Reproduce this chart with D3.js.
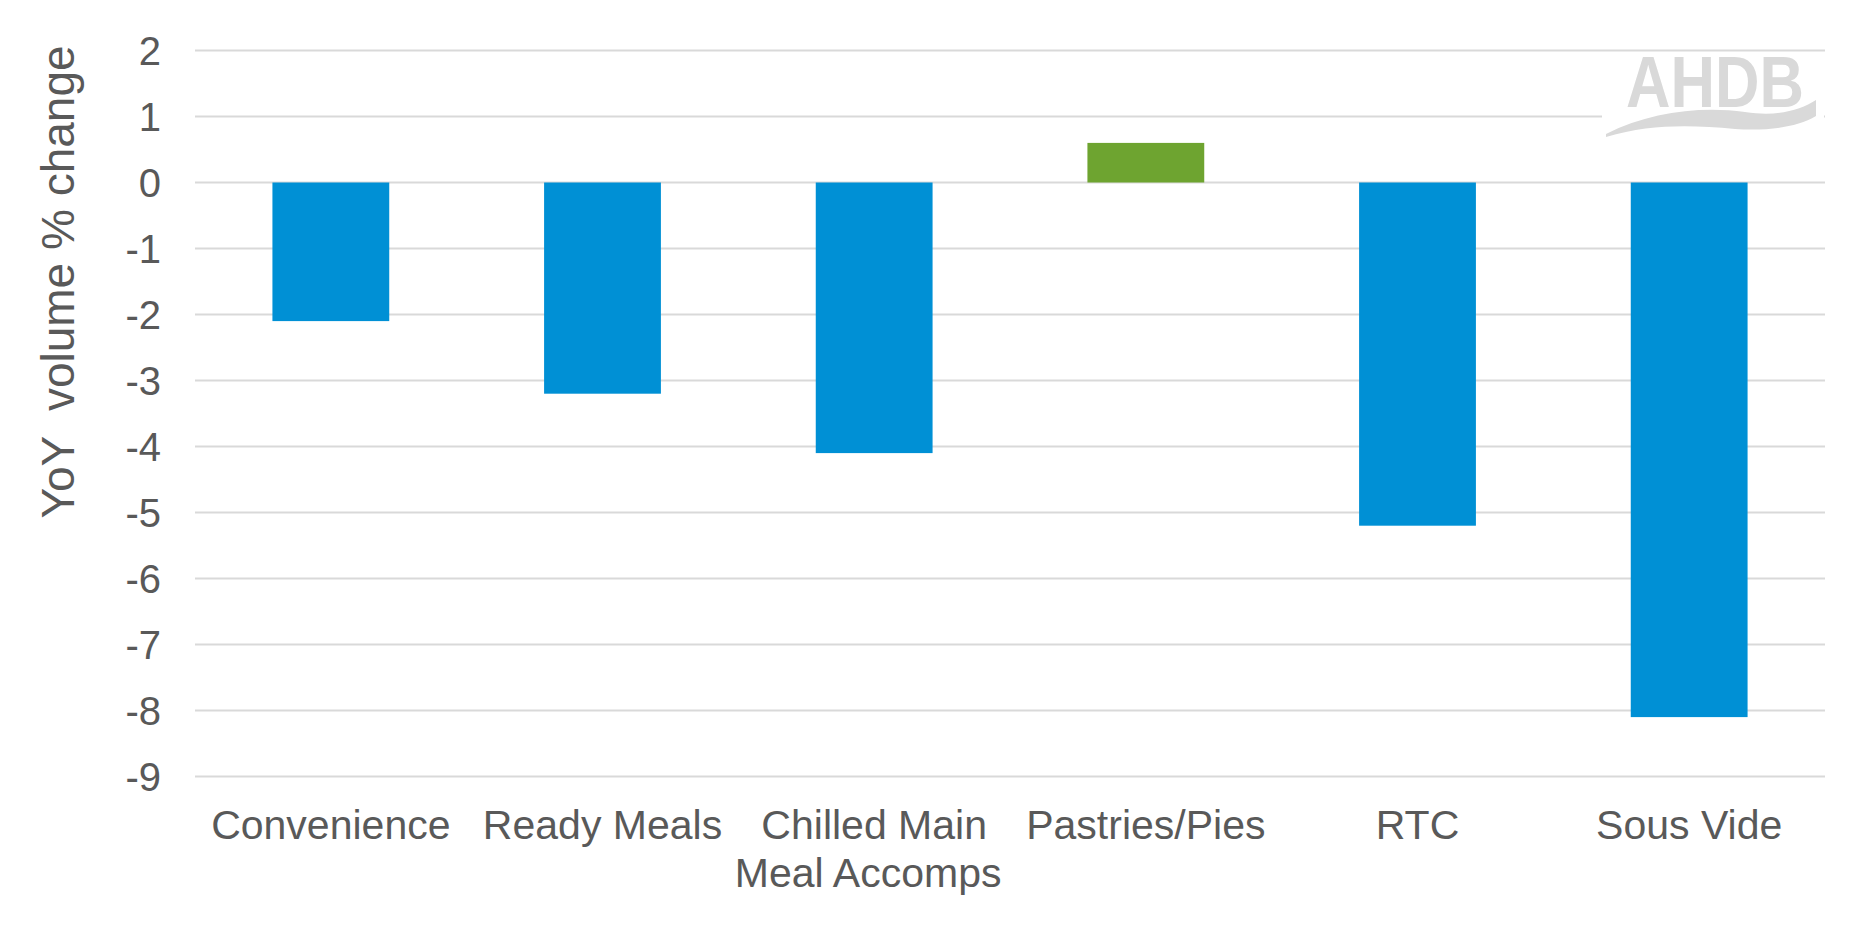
<!DOCTYPE html>
<html>
<head>
<meta charset="utf-8">
<script src="https://cdn.jsdelivr.net/npm/d3@7"></script>
<style>
    body { margin: 0; background: #fff; }
    svg { display: block; font-family: Arial, "Liberation Sans", sans-serif; }
</style>
</head>
<body>
<svg id="chart"></svg>
<script>
var categories = ["Convenience", "Ready Meals", "Chilled Main|Meal Accomps", "Pastries/Pies", "RTC", "Sous Vide"];
var changes = [-2.1, -3.2, -4.1, 0.6, -5.2, -8.1];
var yTicks = [2, 1, 0, -1, -2, -3, -4, -5, -6, -7, -8, -9];
var yTitle = "YoY  volume % change";

var chart = (function() {

    var width = 1875,
        height = 925;

    var left = 195,
        right = 1825,
        top = 50.5,
        bottom = 776.5;

    var textColor = "#595959";

    function BarChart() {
        this.svg = d3.select("#chart")
            .attr("width", width)
            .attr("height", height);
    };

    BarChart.prototype.render = function() {
        var svg = this.svg;

        var x = d3.scaleBand()
            .domain(categories)
            .range([left, right])
            .paddingInner(0.57)
            .paddingOuter(0.285);

        var y = d3.scaleLinear()
            .domain([-9, 2])
            .range([bottom, top]);

        // gridlines
        svg.append("g").selectAll("line")
            .data(yTicks)
            .enter()
            .append("line")
            .attr("x1", left)
            .attr("x2", right)
            .attr("y1", function(d) { return y(d); })
            .attr("y2", function(d) { return y(d); })
            .attr("stroke", "#d9d9d9")
            .attr("stroke-width", 2);

        // tick labels
        svg.append("g").selectAll("text")
            .data(yTicks)
            .enter()
            .append("text")
            .attr("x", 161)
            .attr("y", function(d) { return y(d); })
            .attr("dy", "0.36em")
            .attr("text-anchor", "end")
            .attr("font-size", 40)
            .attr("fill", textColor)
            .text(function(d) { return d; });

        // bars
        svg.append("g").selectAll("rect")
            .data(d3.zip(categories, changes))
            .enter()
            .append("rect")
            .attr("x", function(d) { return x(d[0]); })
            .attr("width", x.bandwidth())
            .attr("y", function(d) { return y(Math.max(0, d[1])); })
            .attr("height", function(d) { return Math.abs(y(d[1]) - y(0)); })
            .attr("fill", function(d) { return d[1] >= 0 ? "#6ea430" : "#0090d5"; });

        // category labels
        var labels = svg.append("g").selectAll("text")
            .data(categories)
            .enter()
            .append("text")
            .attr("text-anchor", "middle")
            .attr("font-size", 41)
            .attr("fill", textColor);

        labels.selectAll("tspan")
            .data(function(d) {
                return d.split("|").map(function(s) { return [d, s]; });
            })
            .enter()
            .append("tspan")
            .attr("x", function(d, i) { return x(d[0]) + x.bandwidth() / 2 - i * 6; })
            .attr("y", function(d, i) { return 839 + i * 48; })
            .text(function(d) { return d[1]; });

        // y title
        svg.append("text")
            .attr("transform", "translate(74,282) rotate(-90)")
            .attr("text-anchor", "middle")
            .attr("font-size", 46)
            .attr("fill", textColor)
            .style("white-space", "pre")
            .text(yTitle);

        // logo
        var logo = svg.append("g");
        logo.append("rect")
            .attr("x", 1602)
            .attr("y", 56)
            .attr("width", 222)
            .attr("height", 86)
            .attr("fill", "#fff");
        logo.append("text")
            .attr("x", 1626)
            .attr("y", 107)
            .attr("font-size", 72)
            .attr("font-weight", "bold")
            .attr("textLength", 178)
            .attr("lengthAdjust", "spacingAndGlyphs")
            .attr("fill", "#d9d9d9")
            .text("AHDB");
        logo.append("path")
            .attr("d", "M1606,134 C1650,112 1700,106 1745,112 C1778,117 1800,110 1816,100 L1816,116 C1796,128 1765,131 1735,129 C1690,125 1650,124 1606,137 Z")
            .attr("fill", "#d9d9d9");
    }

    var chart = new BarChart();
    chart.render();

    return chart;
})();
</script>
</body>
</html>
